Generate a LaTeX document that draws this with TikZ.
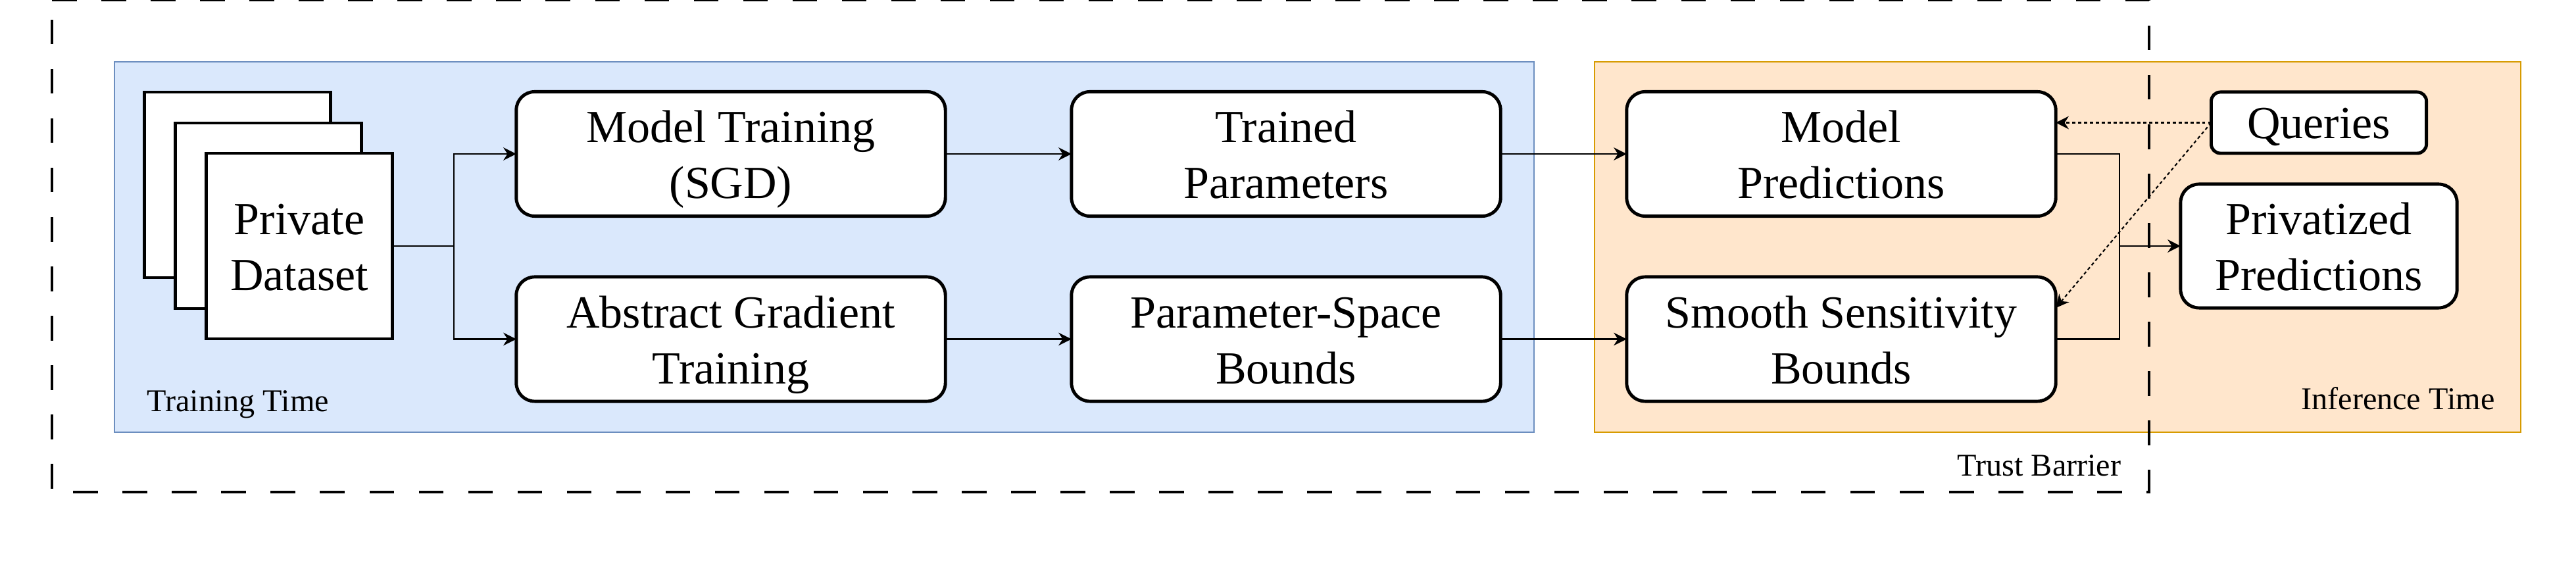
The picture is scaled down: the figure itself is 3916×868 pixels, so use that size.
\documentclass[tikz,border=0pt]{standalone}
\usepackage{fontspec}
\setmainfont{Liberation Serif}
\usetikzlibrary{arrows.meta,calc}
\definecolor{bluefill}{HTML}{DAE8FC}
\definecolor{bluedraw}{HTML}{6C8EBF}
\definecolor{orfill}{HTML}{FFE6CC}
\definecolor{ordraw}{HTML}{D79B00}
\begin{document}
\begin{tikzpicture}[x=0.01cm,y=-0.01cm,
  bigtext/.style={font=\fontsize{19.9pt}{24.1pt}\selectfont, align=center,
    text height=1.5cm, text depth=0.15cm},
  smalltext/.style={font=\fontsize{13.7pt}{16.4pt}\selectfont, inner sep=0pt},
  rbox/.style={bigtext, draw, line width=1.4pt, fill=white, rounded corners=0.28cm,
    minimum width=6.52cm, minimum height=1.89cm, inner sep=0pt, outer sep=0pt},
  page/.style={draw, line width=1.3pt, fill=white, minimum width=2.83cm,
    minimum height=2.82cm, inner sep=0pt, outer sep=0pt},
  region/.style={line width=0.7pt},
  conn/.style={line width=0.6pt},
  arr/.style={conn, -{Stealth[length=5.6pt, width=5.6pt, inset=1.8pt]}},
  qarr/.style={arr, dash pattern=on 1.4pt off 1.15pt},
  barrier/.style={line width=1.15pt, dash pattern=on 10.67pt off 10.67pt},
]
\useasboundingbox (0,0) rectangle (3916,868);

% regions
\filldraw[fill=bluefill, draw=bluedraw, region] (174,94) rectangle (2332,657);
\filldraw[fill=orfill, draw=ordraw, region] (2424,94) rectangle (3832,657);

% dataset pages
\node[page] (d1) at (361,281) {};
\node[page] (d2) at (408,328) {};
\node[page, bigtext] (ds) at (455,374) {Private\\Dataset};

% boxes
\node[rbox] (mt) at (1111,234) {Model Training\\(SGD)};
\node[rbox] (tp) at (1955,234) {Trained\\Parameters};
\node[rbox] (ag) at (1111,515.5) {Abstract Gradient\\Training};
\node[rbox] (ps) at (1955,515.5) {Parameter-Space\\Bounds};
\node[rbox] (mp) at (2799,234) {Model\\Predictions};
\node[rbox] (ss) at (2799,515.5) {Smooth Sensitivity\\Bounds};
\node[rbox, minimum width=3.27cm, minimum height=0.93cm, rounded corners=0.14cm,
  text height=0.48cm, text depth=0cm] (q) at (3525,186.5) {Queries};
\node[rbox, minimum width=4.2cm, minimum height=1.88cm] (pp) at (3525,374) {Privatized\\Predictions};

% connectors
\coordinate (fork) at (690,374);
\draw[conn] (ds.east) -- (fork);
\draw[arr] (fork) |- (mt.west);
\draw[arr] (fork) |- (ag.west);
\draw[arr] (mt) -- (tp);
\draw[arr] (tp) -- (mp);
\draw[arr] (ag) -- (ps);
\draw[arr] (ps) -- (ss);
\coordinate (merge) at (3222,374);
\draw[conn] (mp.east) -| (merge);
\draw[conn] (ss.east) -| (merge);
\draw[arr] (merge) -- (pp.west);
\draw[qarr] (q.west) -- (q.west -| mp.east);
\draw[qarr] (q.west) -- ($(ss.east)+(0,-47.5)$);

% trust barrier
\draw[barrier] (79,0) -- (3267,0) -- (3267,748) -- (79,748) -- cycle;

% labels
\node[smalltext, anchor=base west] (tt) at (223,626) {Training Time};
\node[smalltext, anchor=base east] (it) at (3793,623) {Inference Time};
\node[smalltext, anchor=base east] (tb) at (3225,724) {Trust Barrier};
\end{tikzpicture}
\end{document}
